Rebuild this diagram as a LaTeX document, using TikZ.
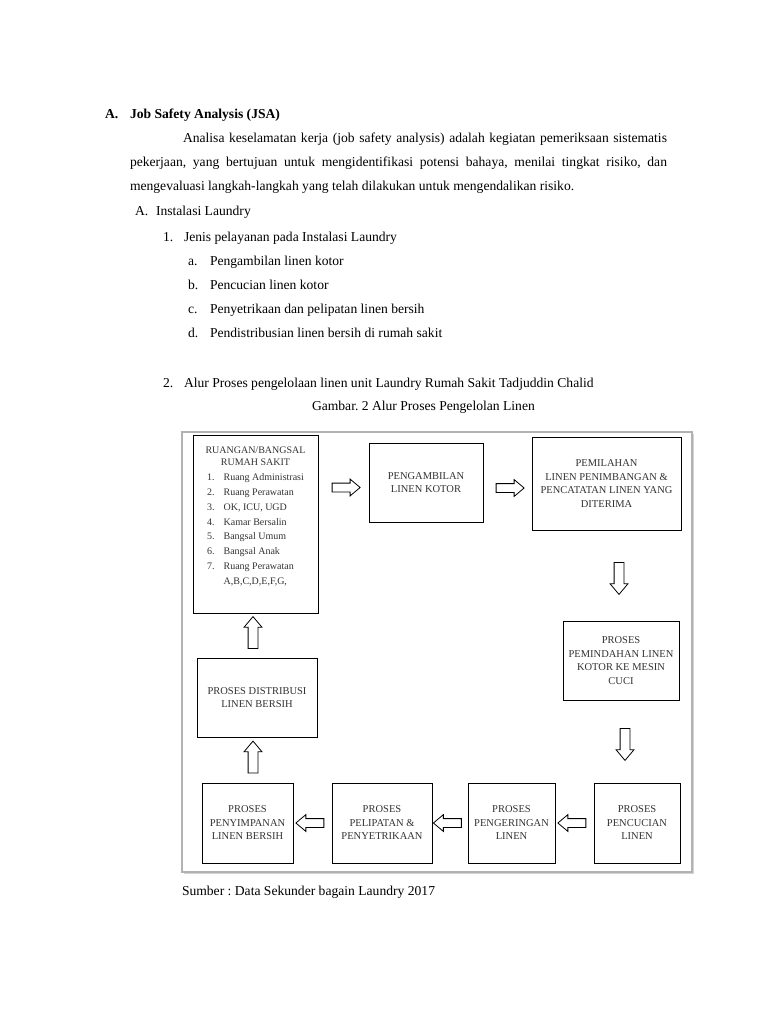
\documentclass[tikz,border=0pt]{standalone}
\usepackage{fontspec}
\setmainfont{Liberation Serif}
\usetikzlibrary{positioning, calc, shapes.arrows, shadows}
\frenchspacing

\begin{document}
\begin{tikzpicture}[x=1pt, y=-1pt,
    every node/.style={inner sep=0, outer sep=0},
    body/.style={anchor=base west, font=\fontsize{13.6}{16}\selectfont},
    bodybf/.style={body, font=\fontsize{13.6}{16}\selectfont\bfseries},
    procbox/.style={draw=black, line width=0.7pt, fill=white, align=center, text=black!80, font=\fontsize{10.5}{13.5}\selectfont},
    blk/.style={single arrow, draw=black, line width=0.8pt, fill=white, inner sep=4pt, minimum height=28pt, single arrow head extend=4pt, single arrow tip angle=80},
    blkv/.style={blk, minimum height=32pt, inner sep=4.5pt}]
  \useasboundingbox (0,0) rectangle (768,1024);

  % text of the page
  \node[bodybf] (secA) at (105,119) {A.};
  \node[bodybf] (jsa) at (130,119) {Job Safety Analysis (JSA)};
  \node[body] (par1) at (183,143) {\makebox[484pt][s]{Analisa keselamatan kerja (job safety analysis) adalah kegiatan pemeriksaan sistematis}};
  \node[body] (par2) at (130,167) {\makebox[537pt][s]{pekerjaan, yang bertujuan untuk mengidentifikasi potensi bahaya, menilai tingkat risiko, dan}};
  \node[body] (par3) at (130,191) {mengevaluasi langkah-langkah yang telah dilakukan untuk mengendalikan risiko.};
  \node[body] (instA) at (135,215) {A.};
  \node[body] (inst) at (156,215) {Instalasi Laundry};
  \node[body] (num1) at (163,241) {1.};
  \node[body] (jenis) at (184,241) {Jenis pelayanan pada Instalasi Laundry};
  \foreach \l/\t [count=\i] in {a/Pengambilan linen kotor, b/Pencucian linen kotor, c/Penyetrikaan dan pelipatan linen bersih, d/Pendistribusian linen bersih di rumah sakit} {
    \node[body] (item\l) at (188,{241+24*\i}) {\l.};
    \node[body] (itemtxt\l) at (210,{241+24*\i}) {\t};
  }
  \node[body] (num2) at (163,387) {2.};
  \node[body] (alur) at (184,387) {Alur Proses pengelolaan linen unit Laundry Rumah Sakit Tadjuddin Chalid};
  \node[body] (gambar) at (312,410) {Gambar. 2 Alur Proses Pengelolan Linen};
  \node[body] (sumber) at (182,895) {Sumber : Data Sekunder bagain Laundry 2017};

  % frame of the figure
  \draw[gray!60, line width=1.5pt, fill=white, drop shadow={shadow xshift=1.5pt, shadow yshift=-2pt, opacity=0.35}] (182,432) rectangle (692,872);

  % boxes
  \node[procbox, minimum width=125pt, minimum height=178pt] (ruang) at (255.5,524) {};
  \node[anchor=north, align=center, text=black!80, font=\fontsize{10}{11.5}\selectfont] (ruangtxt) at ($(ruang.north)+(0,12)$) {RUANGAN/BANGSAL\\RUMAH SAKIT\\[4pt]{\renewcommand{\arraystretch}{1.29}\begin{tabular}[t]{@{}l@{\hspace{9pt}}l@{}}
    1. & Ruang Administrasi\\
    2. & Ruang Perawatan\\
    3. & OK, ICU, UGD\\
    4. & Kamar Bersalin\\
    5. & Bangsal Umum\\
    6. & Bangsal Anak\\
    7. & Ruang Perawatan\\
       & A,B,C,D,E,F,G,
  \end{tabular}}};
  \node[procbox, minimum width=114pt, minimum height=79pt] (ambil) at (426,482.5) {PENGAMBILAN\\LINEN KOTOR};
  \node[procbox, minimum width=149pt, minimum height=93pt] (pilah) at (606.5,483.5) {PEMILAHAN\\LINEN PENIMBANGAN \&\\PENCATATAN LINEN YANG\\DITERIMA};
  \node[procbox, minimum width=116pt, minimum height=79pt] (pindah) at (621,660.5) {PROSES\\PEMINDAHAN LINEN\\KOTOR KE MESIN\\CUCI};
  \node[procbox, minimum width=120pt, minimum height=79pt] (distri) at (257,697.5) {PROSES DISTRIBUSI\\LINEN BERSIH};
  \node[procbox, minimum width=91pt, minimum height=80pt] (simpan) at (247.5,823) {PROSES\\PENYIMPANAN\\LINEN BERSIH};
  \node[procbox, minimum width=100pt, minimum height=80pt] (lipat) at (382,823) {PROSES\\PELIPATAN \&\\PENYETRIKAAN};
  \node[procbox, minimum width=87pt, minimum height=80pt] (kering) at (511.5,823) {PROSES\\PENGERINGAN\\LINEN};
  \node[procbox, minimum width=86pt, minimum height=80pt] (cuci) at (637,823) {PROSES\\PENCUCIAN\\LINEN};

  % block arrows
  \node[blk, yshift=-5pt] (ar1) at ($(ruang.east |- ambil.west)!0.5!(ambil.west)$) {};
  \node[blk, yshift=-4.5pt] (ar2) at ($(ambil.east |- pilah.west)!0.5!(pilah.west)$) {};
  \node[blkv, shape border rotate=270, xshift=-2pt] (ar3) at ($(pilah.south -| pindah.north)!0.5!(pindah.north)$) {};
  \node[blkv, shape border rotate=270, xshift=4pt] (ar4) at ($(pindah.south)!0.5!(pindah.south |- cuci.north)$) {};
  \foreach \a/\b in {cuci/kering, kering/lipat, lipat/simpan} {
    \node[blk, shape border rotate=180] (ar\a) at ($(\a.west)!0.5!(\b.east)$) {};
  }
  \node[blkv, shape border rotate=90, xshift=-4pt] (ar5) at ($(simpan.north -| distri.south)!0.5!(distri.south)$) {};
  \node[blkv, shape border rotate=90, xshift=-4pt] (ar6) at ($(distri.north)!0.5!(distri.north |- ruang.south)$) {};
\end{tikzpicture}
\end{document}
